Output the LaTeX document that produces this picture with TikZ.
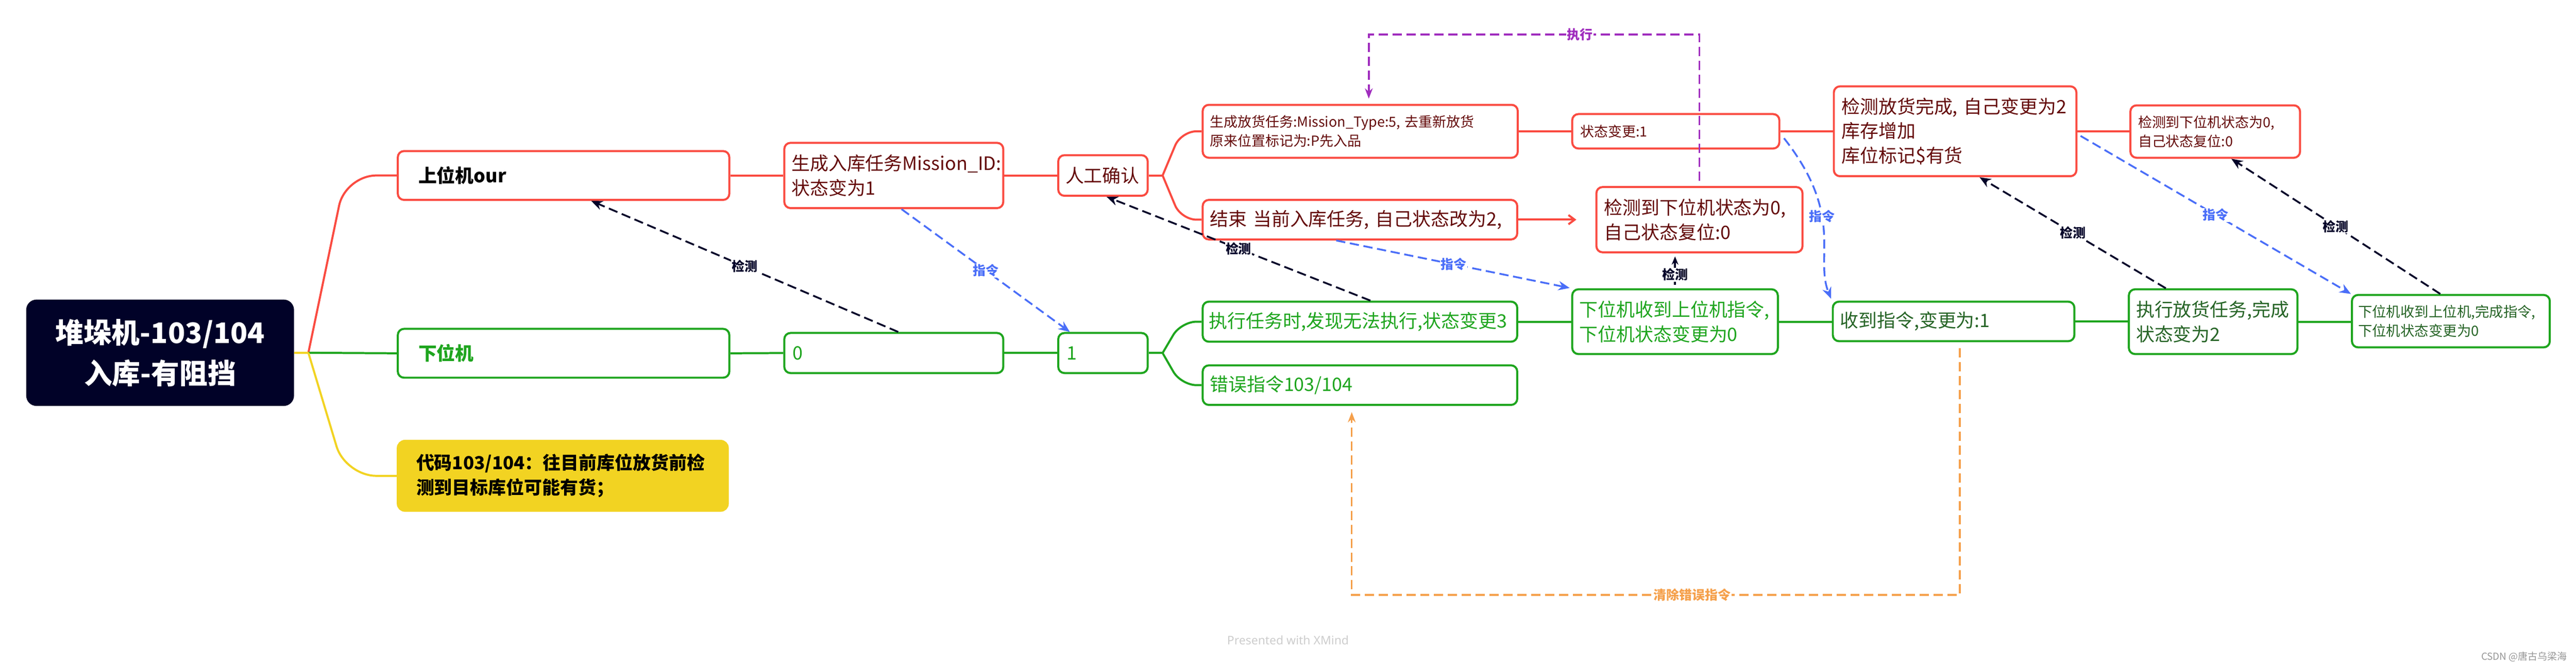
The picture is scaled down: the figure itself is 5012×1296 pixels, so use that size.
\documentclass[tikz,border=0pt]{standalone}
\usepackage{fontspec}
\setmainfont{Noto Sans CJK SC}
\newfontfamily\wmfont{Noto Sans}
\usetikzlibrary{arrows.meta,calc}
\definecolor{cred}{RGB}{250,75,65}
\definecolor{cgreen}{RGB}{30,165,30}
\definecolor{dgreen}{RGB}{38,100,38}
\definecolor{maroon}{RGB}{100,10,10}
\definecolor{navy}{RGB}{2,2,40}
\definecolor{cyel}{RGB}{242,211,34}
\definecolor{cblue}{RGB}{74,110,248}
\definecolor{cpurp}{RGB}{160,45,190}
\definecolor{corange}{RGB}{245,160,75}
\definecolor{rootbg}{RGB}{1,2,40}
\definecolor{wmgray}{RGB}{205,205,205}
\definecolor{csdngray}{RGB}{150,150,150}
\newcommand{\myfs}[2]{\fontsize{#1}{#2}\selectfont}
\newcommand{\mkbox}[8]{%
  \pgfmathsetmacro{\bw}{#4-#2-2*#6}%
  \pgfmathsetmacro{\bh}{#5-#3}%
  \node[#7, text width=\bw pt, inner xsep=#6pt, minimum height=\bh pt] (#1) at ({(#2+#4)/2},{(#3+#5)/2}) {#8};}
\tikzset{
  basebox/.style={line width=4pt, rounded corners=12pt, fill=white, inner ysep=0pt, align=left, font=\myfs{36}{48}},
  rbox/.style={basebox, draw=cred, text=maroon},
  rsmall/.style={rbox, font=\myfs{27}{37}},
  gbox/.style={basebox, draw=cgreen, text=cgreen},
  dgbox/.style={basebox, draw=cgreen, text=dgreen},
  dgsmall/.style={dgbox, font=\myfs{27.5}{37}},
  tred/.style={draw=cred, line width=4pt},
  tgreen/.style={draw=cgreen, line width=4pt},
  tyel/.style={draw=cyel, line width=4pt},
  rel/.style={line width=3.5pt, dash pattern=on 18pt off 9pt},
  navyarr/.style={rel, draw=navy, -{Stealth[length=22pt,width=18pt]}},
  bluearr/.style={rel, draw=cblue, -{Stealth[length=22pt,width=18pt]}},
  purparr/.style={rel, draw=cpurp, -{Stealth[length=20pt,width=15pt]}},
  orarr/.style={rel, draw=corange, -{Stealth[length=20pt,width=15pt]}},
  lab/.style={font=\bfseries\myfs{25}{30}, fill=white, inner sep=1.5pt},
}
\begin{document}
\begin{tikzpicture}[x=1pt,y=-1pt]
\useasboundingbox (0,0) rectangle (5012,1296);
\fill[white] (0,0) rectangle (5012,1296);

% root
\node[fill=rootbg, rounded corners=20pt, minimum width=521pt, minimum height=207pt,
      align=center, text=white, font=\bfseries\myfs{55}{79}] (root) at (311.5,686.5) {堆垛机-103/104\\入库-有阻挡};

% boxes
\mkbox{up}{774}{294}{1419}{389}{40}{basebox, draw=cred, text=black, font=\bfseries\myfs{36}{48}}{上位机our}
\mkbox{down}{774}{640}{1419}{735}{40}{basebox, draw=cgreen, text=cgreen, font=\bfseries\myfs{36}{48}}{下位机}
\mkbox{note}{774}{858}{1416}{994}{36}{basebox, fill=cyel, draw=cyel, text=black, rounded corners=14pt, font=\bfseries\myfs{35}{48}}{代码103/104：往目前库位放货前检\\测到目标库位可能有货；}
\mkbox{gen}{1526}{278}{1952}{405}{14}{rbox}{生成入库任务Mission\_ID:\\状态变为1}
\mkbox{zero}{1526}{648}{1952}{726}{16}{gbox}{0}
\mkbox{manual}{2059}{302}{2233}{381}{14}{rbox}{人工确认}
\mkbox{one}{2059}{648}{2233}{726}{16}{gbox}{1}
\mkbox{place}{2340}{204}{2953}{307}{14}{rsmall}{生成放货任务:Mission\_Type:5, 去重新放货\\原来位置标记为:P先入品}
\mkbox{finish}{2340}{389}{2952}{466}{14}{rbox}{结束 当前入库任务, 自己状态改为2,}
\mkbox{exec}{2340}{587}{2952}{665}{12}{gbox}{执行任务时,发现无法执行,状态变更3}
\mkbox{err}{2340}{711}{2952}{788}{14}{gbox}{错误指令103/104}
\mkbox{st1}{3059}{222}{3462}{289}{16}{rsmall}{状态变更:1}
\mkbox{det0}{3106}{364}{3507}{491}{15}{rbox}{检测到下位机状态为0,\\自己状态复位:0}
\mkbox{recv}{3059}{563}{3459}{689}{14}{gbox}{下位机收到上位机指令,\\下位机状态变更为0}
\mkbox{recv1}{3566}{587}{4036}{664}{14}{dgbox}{收到指令,变更为:1}
\mkbox{done}{3568}{168}{4040}{343}{15}{rbox}{检测放货完成, 自己变更为2\\库存增加\\库位标记\$有货}
\mkbox{det0b}{4145}{205}{4475}{307}{15}{rsmall}{检测到下位机状态为0,\\自己状态复位:0}
\mkbox{exec2}{4142}{563}{4470}{689}{14}{dgbox}{执行放货任务,完成\\状态变为2}
\mkbox{fin}{4576}{574}{4961}{676}{12}{dgsmall}{下位机收到上位机,完成指令,\\下位机状态变更为0}

% tree connectors
\coordinate (jr) at (600,686.5);
\draw[tred, rounded corners=60pt] (jr) -- ($(up.west)+(-100,0)$) -- (up.west);
\draw[tgreen] (jr) -- (down.west);
\draw[tyel, rounded corners=60pt] (jr) -- ($(note.west)+(-100,0)$) -- (note.west);
\draw[tyel] (root.east) -- (jr);

\draw[tred] (up.east) -- (gen.west);
\draw[tgreen] (down.east) -- (zero.west);
\draw[tred] (gen.east) -- (manual.west);
\draw[tgreen] (zero.east) -- (one.west);

\coordinate (jm) at ($(manual.east)+(27,0)$);
\draw[tred] (manual.east) -- (jm);
\draw[tred, rounded corners=30pt] (jm) -- ($(place.west)+(-40,0)$) -- (place.west);
\draw[tred, rounded corners=30pt] (jm) -- ($(finish.west)+(-40,0)$) -- (finish.west);

\coordinate (jo) at ($(one.east)+(27,0)$);
\draw[tgreen] (one.east) -- (jo);
\draw[tgreen, rounded corners=30pt] (jo) -- ($(exec.west)+(-40,0)$) -- (exec.west);
\draw[tgreen, rounded corners=30pt] (jo) -- ($(err.west)+(-40,0)$) -- (err.west);

\draw[tred] (place.east) -- (place.east -| st1.west);
\draw[tred, -{Straight Barb[length=12pt,width=18pt]}, shorten >=37pt] (finish.east) -- (finish.east -| det0.west);
\draw[tgreen] (exec.east) -- (exec.east -| recv.west);
\draw[tgreen] (recv.east) -- (recv.east -| recv1.west);
\draw[tred] (st1.east) -- (st1.east -| done.west);
\draw[tred] (done.east) -- (done.east -| det0b.west);
\draw[tgreen] (recv1.east) -- (recv1.east -| exec2.west);
\draw[tgreen] (exec2.east) -- (exec2.east -| fin.west);

% relationship connectors
\draw[navyarr] ($(zero.north west)!0.52!(zero.north east)$) -- node[lab,text=navy]{检测} ($(up.south west)!0.583!(up.south east)$);
\draw[bluearr] ($(gen.south west)!0.535!(gen.south east)$) -- node[lab,text=cblue]{指令} ($(one.north west)!0.138!(one.north east)$);
\draw[navyarr] ($(exec.north west)!0.533!(exec.north east)$) -- node[lab,text=navy]{检测} ($(manual.south west)!0.54!(manual.south east)$);
\draw[bluearr, shorten >=3pt] ($(finish.south west)!0.425!(finish.south east)$) -- node[lab,text=cblue]{指令} (recv.north west);

\coordinate (pk) at (0,67);
\coordinate (pt) at ($(place.north west)!0.527!(place.north east)$);
\draw[purparr, shorten <=10pt, shorten >=10pt] (det0.north) -- (det0.north |- pk) -- node[lab,text=cpurp,pos=0.362]{执行} (pt |- pk) -- (pt);

\draw[navyarr, -{Stealth[length=16pt,width=13pt]}, shorten <=7pt, shorten >=6pt] (recv.north) -- node[lab,text=navy,pos=0.39]{检测} (recv.north |- det0.south);

\draw[bluearr, shorten >=4pt] ($(st1.south east)+(7,-22)$) .. controls (3590,420) and (3530,500) .. node[lab,text=cblue,pos=0.4]{指令} (recv1.north west);

\draw[navyarr] ($(exec2.north west)!0.2226!(exec2.north east)$) -- node[lab,text=navy]{检测} ($(done.south west)!0.6!(done.south east)$);
\draw[bluearr] ($(done.east)+(6,9)$) -- node[lab,text=cblue]{指令} (fin.north west);
\draw[navyarr] ($(fin.north west)!0.447!(fin.north east)$) -- node[lab,text=navy]{检测} ($(det0b.south west)!0.594!(det0b.south east)$);

\coordinate (ok) at (0,1158);
\coordinate (ob) at ($(recv1.south west)!0.5255!(recv1.south east)$);
\coordinate (et) at ($(err.south west)!0.474!(err.south east)$);
\draw[orarr, shorten <=12pt, shorten >=12pt] (ob) -- (ob |- ok) -- node[lab,text=corange,pos=0.44]{清除错误指令} (et |- ok) -- (et);

% watermarks
\node[font=\wmfont\bfseries\myfs{23}{28}, text=wmgray] (xm) at (2506,1246) {Presented with XMind};
\node[font=\myfs{19}{24}, text=csdngray] (csdn) at (4911,1278) {CSDN @唐古乌梁海};
\end{tikzpicture}
\end{document}
